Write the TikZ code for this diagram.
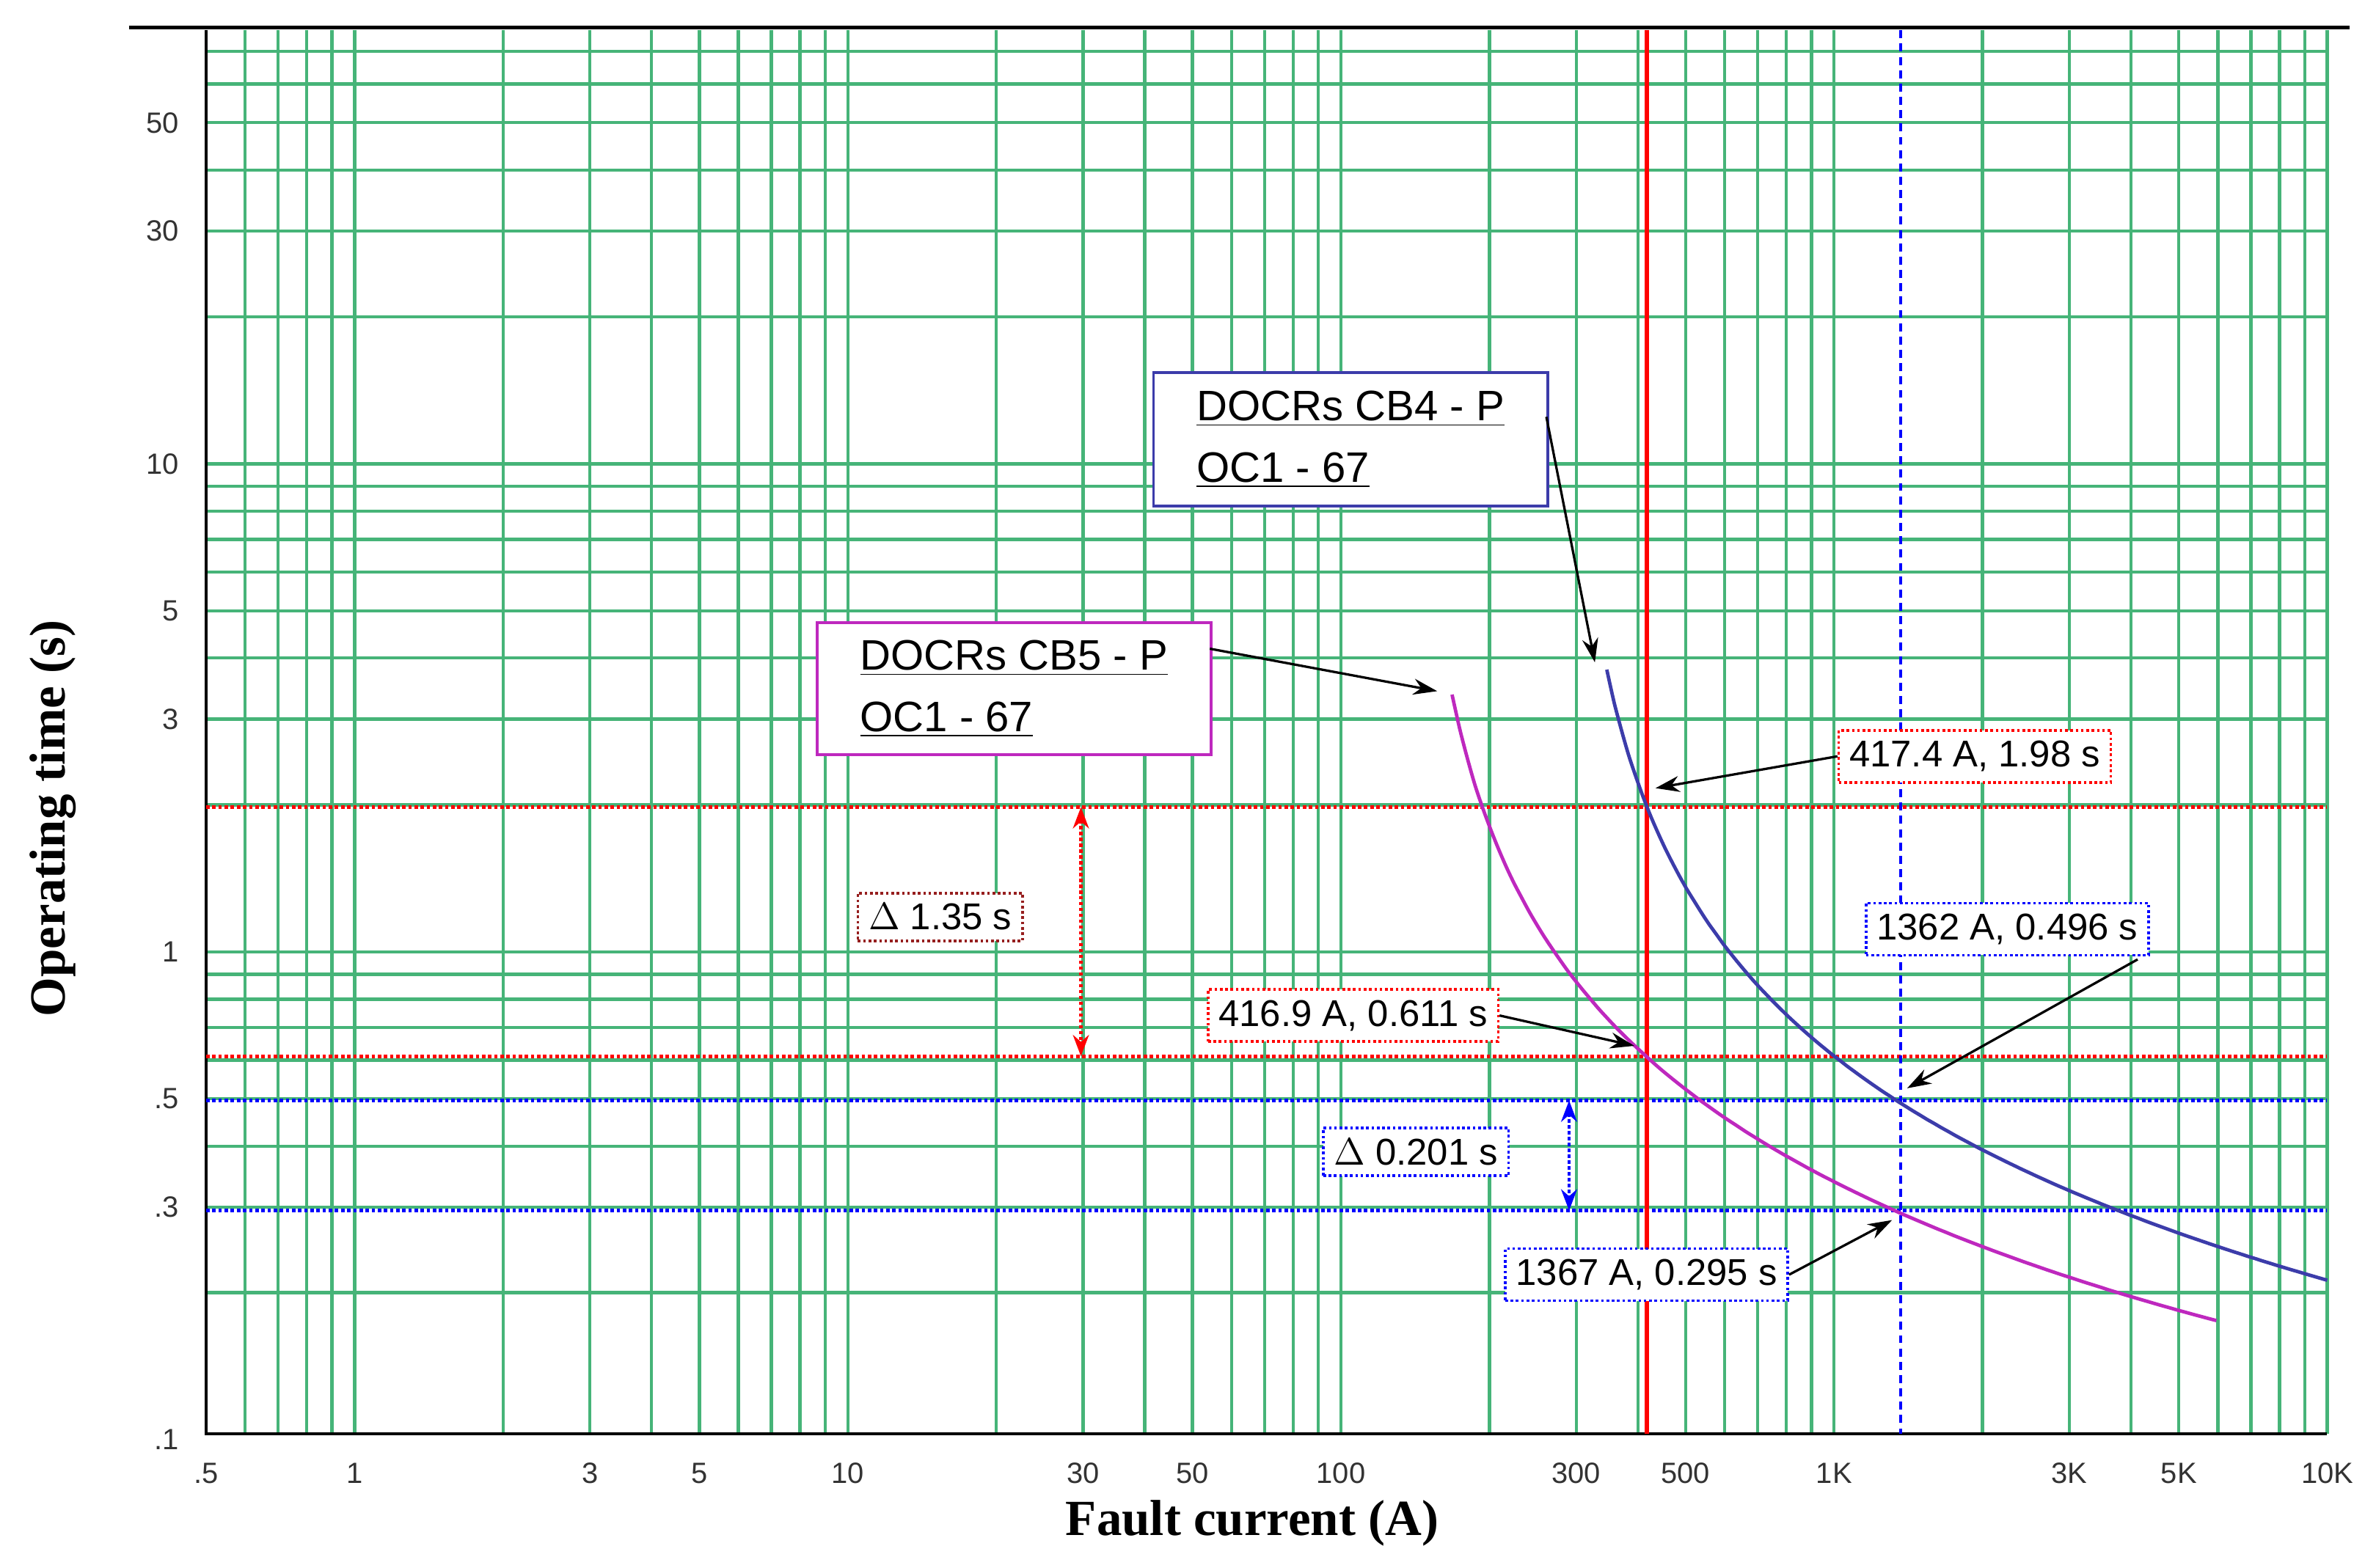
\documentclass[tikz,border=0pt]{standalone}
\usepackage{fontspec}
\setmainfont{Liberation Serif}
\newfontfamily\lsans{Liberation Sans}
\usetikzlibrary{arrows.meta}
\definecolor{gridg}{RGB}{70,180,120}
\definecolor{cbblue}{RGB}{60,60,170}
\definecolor{cbmag}{RGB}{190,40,190}
\definecolor{dred}{RGB}{150,30,30}
\newcommand\lgx[1]{136+(log10(#1)+0.30103)*325.3}
\newcommand\lgy[1]{628-log10(#1)*322}
\tikzset{
 gridln/.style={gridg,line width=1.2pt},
 tick/.style={font=\lsans\fontsize{11}{12}\selectfont,text=black!80},
 titlebox/.style={draw,line width=1pt,fill=white,align=left,inner sep=5pt,font=\lsans\fontsize{16}{23}\selectfont},
 valbox/.style={draw,densely dotted,line width=1pt,fill=white,inner sep=4pt,font=\lsans\fontsize{14}{16}\selectfont},
 callout/.style={-{Stealth[length=9pt,width=6pt]},line width=0.9pt,black},
 hline/.style={densely dotted,line width=1.3pt}
}
\begin{document}
\begin{tikzpicture}[x=0.02cm,y=-0.02cm]
\useasboundingbox (0,0) rectangle (1560,1034.5);
% grid
\foreach \v in {0.5,0.6,0.7,0.8,0.9,1,2,3,4,5,6,7,8,9,10,20,30,40,50,60,70,80,90,100,200,300,400,500,600,700,800,900,1000,2000,3000,4000,5000,6000,7000,8000,9000,10000}
  \draw[gridln] ({\lgx{\v}},20) -- ({\lgx{\v}},946);
\foreach \v in {0.2,0.3,0.4,0.5,0.6,0.7,0.8,0.9,1,2,3,4,5,6,7,8,9,10,20,30,40,50,60,70}
  \draw[gridln] (136,{\lgy{\v}}) -- (1535,{\lgy{\v}});
% axes
\draw[line width=1.3pt] (85,18) -- (1550,18);
\draw[line width=1.3pt] (136,20) -- (136,946) -- (1535,946);
% ticks
\foreach \v/\t in {0.5/.5,1/1,3/3,5/5,10/10,30/30,50/50,100/100,300/300,500/500,1000/1K,3000/3K,5000/5K,10000/10K}
  \node[tick] (xt\t) at ({\lgx{\v}},972) {\t};
\foreach \v/\t in {0.1/.1,0.3/.3,0.5/.5,1/1,3/3,5/5,10/10,30/30,50/50}
  \node[tick,anchor=east] (yt\t) at (124,{\lgy{\v}}) {\t};
\node[font=\bfseries\fontsize{19}{22}\selectfont] (xlab) at (826,1005) {Fault current (A)};
\node[font=\bfseries\fontsize{19}{22}\selectfont,rotate=90] (ylab) at (35,540) {Operating time (s)};
% horizontal markers
\draw[hline,red] (136,{\lgy{1.98}}) -- (1535,{\lgy{1.98}});
\draw[hline,red] (136,{\lgy{0.611}}) -- (1535,{\lgy{0.611}});
\draw[hline,blue] (136,{\lgy{0.496}}) -- (1535,{\lgy{0.496}});
\draw[hline,blue] (136,{\lgy{0.295}}) -- (1535,{\lgy{0.295}});
% vertical markers
\draw[red,line width=1.6pt] ({\lgx{417}},20) -- ({\lgx{417}},946);
\draw[blue,densely dashed,line width=1.2pt] ({\lgx{1364}},20) -- ({\lgx{1364}},946);
% curves (IEC inverse)
\draw[cbblue,line width=1.3pt] plot[domain={log10(346)}:4,samples=100,smooth] ({\lgx{10^\x}},{\lgy{0.01572/((10^\x/281)^0.02-1)}});
\draw[cbmag,line width=1.3pt] plot[domain={log10(168)}:{log10(5960)},samples=100,smooth] ({\lgx{10^\x}},{\lgy{0.0137/((10^\x/137)^0.02-1)}});
% title boxes
\node[titlebox,draw=cbblue,anchor=north west,minimum width=260*0.02cm,minimum height=88*0.02cm] (cb4) at (760,245) {\underline{DOCRs CB4 - P}\\\underline{OC1 - 67}};
\node[titlebox,draw=cbmag,anchor=north west,minimum width=260*0.02cm,minimum height=87*0.02cm] (cb5) at (538,410) {\underline{DOCRs CB5 - P}\\\underline{OC1 - 67}};
\coordinate (cb4t) at (1052,437);
\coordinate (cb5t) at (948,456);
\draw[callout] (1020,275) -- (cb4t);
\draw[callout] (798,428) -- (cb5t);
% value boxes
\node[valbox,draw=red,anchor=west] (v1) at (1212,499) {417.4 A, 1.98 s};
\node[valbox,draw=blue,anchor=west] (v2) at (1230,613) {1362 A, 0.496 s};
\node[valbox,draw=red,anchor=west] (v3) at (796,670) {416.9 A, 0.611 s};
\node[valbox,draw=blue,anchor=west] (v4) at (992,841) {1367 A, 0.295 s};
\coordinate (p1) at (1092,520);
\coordinate (p2) at (1258,718);
\coordinate (p3) at (1078,690);
\coordinate (p4) at (1248,805);
\draw[callout] (v1.west) -- (p1);
\draw[callout] (1410,633) -- (p2);
\draw[callout] (v3.east) -- (p3);
\draw[callout] (v4.east) -- (p4);
% deltas
\coordinate (d1a) at (713,{\lgy{1.98}});
\coordinate (d1b) at (713,{\lgy{0.611}});
\draw[red,densely dotted,line width=1.2pt,{Stealth[length=8pt,width=6pt]}-{Stealth[length=8pt,width=6pt]}] (d1a) -- (d1b);
\coordinate (d2a) at (1035,{\lgy{0.496}});
\coordinate (d2b) at (1035,{\lgy{0.295}});
\draw[blue,densely dotted,line width=1.2pt,{Stealth[length=8pt,width=6pt]}-{Stealth[length=8pt,width=6pt]}] (d2a) -- (d2b);
\node[valbox,draw=dred,anchor=west] (dl1) at (565,605) {$\Delta$ 1.35 s};
\node[valbox,draw=blue,anchor=west] (dl2) at (872,760) {$\Delta$ 0.201 s};
\end{tikzpicture}
\end{document}
